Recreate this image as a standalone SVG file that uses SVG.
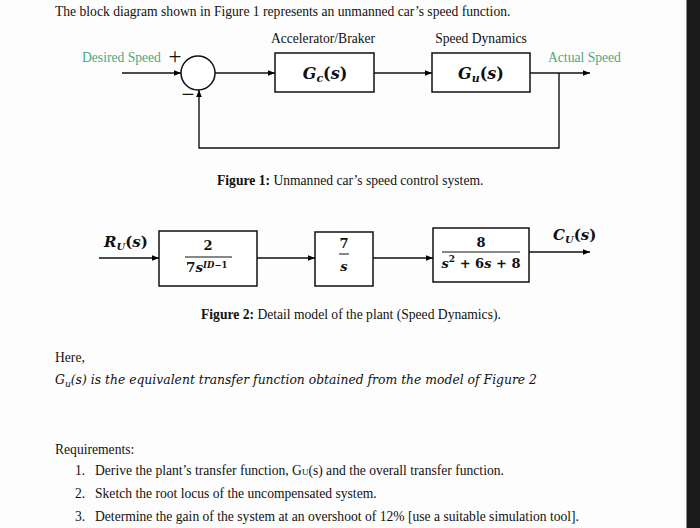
<svg xmlns="http://www.w3.org/2000/svg" width="700" height="528" viewBox="0 0 700 528">
<defs>
<marker id="ah" viewBox="0 0 10 10" refX="10" refY="5" markerWidth="7" markerHeight="7" markerUnits="userSpaceOnUse" orient="auto">
<path d="M0,1 L10,5 L0,9 Z" fill="#000"/>
</marker>
</defs>
<style>
.t{font-family:"Liberation Serif","Times New Roman",serif;font-size:13.6px;fill:#111}
.g{font-family:"Liberation Serif","Times New Roman",serif;font-size:13.6px;fill:#4aa886}
.sym{font-family:"Liberation Serif","Times New Roman",serif;font-size:23px;fill:#111}
.m{font-family:"DejaVu Serif",serif;font-weight:bold;fill:#111}
.mi{font-style:italic}
.box{fill:#fff;stroke:#111;stroke-width:1.5}
.ln{fill:none;stroke:#111;stroke-width:1.4}
.arr{fill:none;stroke:#111;stroke-width:1.4;marker-end:url(#ah)}
.it{font-family:"DejaVu Serif",serif;font-style:italic;font-size:13.5px;fill:#111}
</style>
<rect x="0" y="0" width="700" height="528" fill="#fdfdfd"/>
<rect x="686" y="0" width="14" height="528" fill="#1c1c1c"/>
<line x1="686.5" y1="0" x2="686.5" y2="528" stroke="#8a8a8a" stroke-width="1"/>

<text class="t" x="55" y="16">The block diagram shown in Figure 1 represents an unmanned car’s speed function.</text>

<g id="connectors">
<line class="arr" x1="122" y1="73" x2="181" y2="73"/>
<line class="arr" x1="215" y1="73" x2="275" y2="73"/>
<line class="arr" x1="374" y1="73" x2="432" y2="73"/>
<line class="arr" x1="530" y1="73" x2="590" y2="73"/>
<polyline class="ln" points="559,73 559,148 199,148 199,96"/>
<line class="arr" x1="199" y1="97" x2="199" y2="90"/>
<line class="arr" x1="99" y1="258" x2="159" y2="258"/>
<line class="arr" x1="257" y1="258" x2="315" y2="258"/>
<line class="arr" x1="373" y1="258" x2="433" y2="258"/>
<line class="arr" x1="529" y1="252" x2="590" y2="252"/>
</g>

<g id="sum">
<circle cx="198" cy="73" r="17" fill="#fff" stroke="#111" stroke-width="1.5"/>
<text class="sym" x="175" y="64" text-anchor="middle">+</text>
<text class="sym" x="188" y="102" text-anchor="middle">−</text>
</g>
<g id="desired">
<text class="g" x="82" y="62">Desired Speed</text>
</g>
<g id="actual">
<text class="g" x="548" y="62">Actual Speed</text>
</g>

<g id="gc">
<text class="t" x="323" y="43" text-anchor="middle">Accelerator/Braker</text>
<rect class="box" x="275" y="53" width="99" height="39"/>
<text class="m" x="325" y="79" font-size="16" text-anchor="middle"><tspan class="mi">G</tspan><tspan class="mi" font-size="11" dy="3">c</tspan><tspan dy="-3">(</tspan><tspan class="mi">s</tspan>)</text>
</g>
<g id="gu">
<text class="t" x="481" y="43" text-anchor="middle">Speed Dynamics</text>
<rect class="box" x="432" y="53" width="98" height="39"/>
<text class="m" x="481" y="79" font-size="16" text-anchor="middle"><tspan class="mi">G</tspan><tspan class="mi" font-size="11" dy="3">u</tspan><tspan dy="-3">(</tspan><tspan class="mi">s</tspan>)</text>
</g>

<text class="t" x="217" y="185"><tspan font-weight="bold">Figure 1:</tspan> Unmanned car’s speed control system.</text>

<g id="ru">
<text class="m" x="104" y="247" font-size="15"><tspan class="mi">R</tspan><tspan class="mi" font-size="10" dy="3">U</tspan><tspan dy="-3">(</tspan><tspan class="mi">s</tspan>)</text>
</g>
<g id="b1">
<rect class="box" x="159" y="231" width="98" height="55"/>
<text class="m" x="208" y="250" font-size="13" text-anchor="middle">2</text>
<line x1="185" y1="257" x2="232" y2="257" stroke="#111" stroke-width="1"/>
<text class="m" x="186" y="272" font-size="13.5"><tspan>7</tspan><tspan class="mi">s</tspan><tspan class="mi" font-size="8.5" dy="-4">ID</tspan><tspan font-size="8.5">−1</tspan></text>
</g>
<g id="b2">
<rect class="box" x="315" y="232" width="58" height="54"/>
<text class="m" x="344" y="248" font-size="13" text-anchor="middle">7</text>
<line x1="339" y1="254" x2="349" y2="254" stroke="#111" stroke-width="1"/>
<text class="m mi" x="344" y="271" font-size="13" text-anchor="middle">s</text>
</g>
<g id="b3">
<rect class="box" x="433" y="228" width="96" height="54"/>
<text class="m" x="481" y="247" font-size="13" text-anchor="middle">8</text>
<line x1="442" y1="252" x2="520" y2="252" stroke="#111" stroke-width="1"/>
<text class="m" x="481" y="268" font-size="13" text-anchor="middle"><tspan class="mi">s</tspan><tspan font-size="9" dy="-6">2</tspan><tspan dy="6"> + 6</tspan><tspan class="mi">s</tspan> + 8</text>
</g>
<g id="cu">
<text class="m" x="553" y="240" font-size="15"><tspan class="mi">C</tspan><tspan class="mi" font-size="10" dy="3">U</tspan><tspan dy="-3">(</tspan><tspan class="mi">s</tspan>)</text>
</g>

<text class="t" x="201" y="319"><tspan font-weight="bold">Figure 2:</tspan> Detail model of the plant (Speed Dynamics).</text>

<text class="t" x="55" y="362">Here,</text>
<text class="it" x="55" y="384" textLength="482" lengthAdjust="spacingAndGlyphs">G<tspan font-size="10" dy="3">u</tspan><tspan dy="-3">(s) is the equivalent transfer function obtained from the model of Figure 2</tspan></text>

<text class="t" x="55" y="454">Requirements:</text>
<text class="t" x="75" y="475">1.</text>
<text class="t" x="95" y="475">Derive the plant’s transfer function, G<tspan font-size="9">U</tspan>(s) and the overall transfer function.</text>
<text class="t" x="75" y="498">2.</text>
<text class="t" x="95" y="498">Sketch the root locus of the uncompensated system.</text>
<text class="t" x="75" y="521">3.</text>
<text class="t" x="95" y="521">Determine the gain of the system at an overshoot of 12% [use a suitable simulation tool].</text>
</svg>
